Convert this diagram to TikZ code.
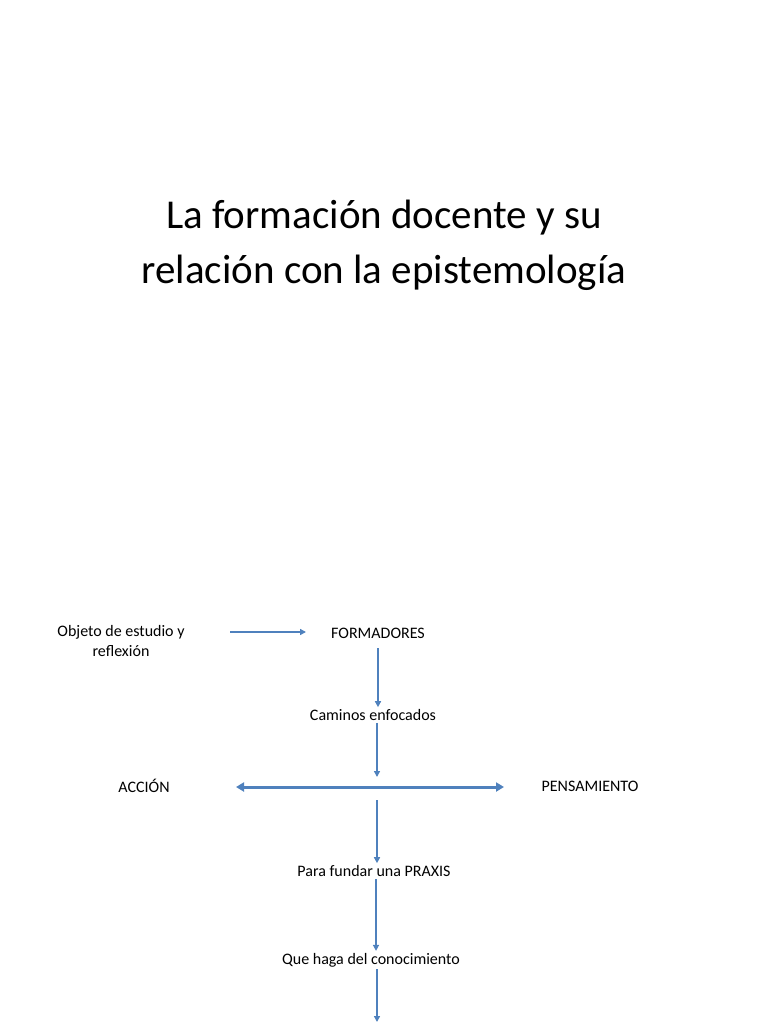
\documentclass[tikz,border=0pt]{standalone}
\usepackage{fontspec}
\setmainfont{Carlito}
\usetikzlibrary{arrows.meta}
\definecolor{arr}{HTML}{4F81BD}
\begin{document}
\begin{tikzpicture}[x=1pt,y=-1pt,
  lbl/.style={font=\fontsize{16}{20}\selectfont, inner sep=2pt, align=center},
  conn/.style={draw=arr, line width=1.6pt, -{Triangle[length=6pt,width=6pt]}},
  dconn/.style={draw=arr, line width=3pt, {Triangle[length=8pt,width=9pt]}-{Triangle[length=8pt,width=9pt]}}]
\useasboundingbox (0,0) rectangle (768,1024);
\node[font=\fontsize{41}{55}\selectfont, align=center] (title) at (384,245) {La formación docente y su\\relación con la epistemología};
\node[lbl] (obj) at (121,641) {Objeto de estudio y\\reflexión};
\node[lbl] (form) at (378,633) {FORMADORES};
\node[lbl] (cam) at (373,715) {Caminos enfocados};
\node[lbl] (acc) at (144,786) {ACCIÓN};
\node[lbl] (pen) at (590,786) {PENSAMIENTO};
\node[lbl] (para) at (374,871) {Para fundar una PRAXIS};
\node[lbl] (que) at (371,960) {Que haga del conocimiento};
\coordinate (a1s) at (230,632); \coordinate (a1e) at (306,632);
\coordinate (dl) at (236,787); \coordinate (dr) at (504,787);
\coordinate (mid) at (377,777); \coordinate (midb) at (377,800);
\coordinate (endc) at (377,1022);
\draw[conn] (a1s) -- (a1e);
\draw[conn] (378,648) -- (cam.north -| 378,0);
\draw[conn] (cam.south -| 377,0) -- (mid);
\draw[dconn] (dl) -- (dr);
\draw[conn] (midb) -- (para.north -| 377,0);
\draw[conn] (para.south -| 376,0) -- (que.north -| 376,0);
\draw[conn] (que.south -| 377,0) -- (endc);
\end{tikzpicture}
\end{document}
